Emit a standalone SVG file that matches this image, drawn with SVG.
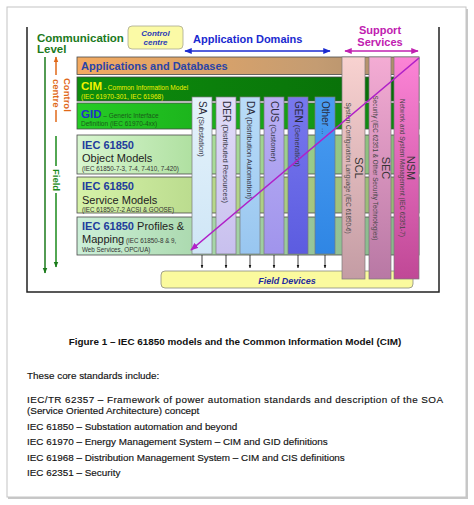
<svg xmlns="http://www.w3.org/2000/svg" width="474" height="505" viewBox="0 0 474 505">
<defs>
<style>
text{font-family:"Liberation Sans",Arial,sans-serif}
.row{stroke:#4a4a4a;stroke-width:0.8}
.col{stroke:#7a7a7a;stroke-width:0.7}
.cm{font-size:10px;fill:#2a2a3a}
.cs{font-size:7.5px;fill:#3a3a4a}
.big{font-size:11px;font-weight:bold;fill:#1f3c9c}
.big2{font-size:11px;fill:#222}
.sm{font-size:6.3px;fill:#333}
.body{font-size:9.9px;fill:#111;stroke:#111;stroke-width:0.15}
.ax{fill:none;stroke-width:1.5}
</style>
<linearGradient id="gApp" x1="0" x2="1"><stop offset="0" stop-color="#f3aa60"/><stop offset="0.7" stop-color="#c49c72"/><stop offset="1" stop-color="#a88a68"/></linearGradient>
<linearGradient id="gCim" x1="0" x2="1"><stop offset="0" stop-color="#0d8e0d"/><stop offset="1" stop-color="#086a08"/></linearGradient>
<linearGradient id="gGid" x1="0" x2="1"><stop offset="0" stop-color="#26cc26"/><stop offset="0.35" stop-color="#1cb41c"/><stop offset="1" stop-color="#0e7e0e"/></linearGradient>
<linearGradient id="gObj" x1="0" x2="1"><stop offset="0" stop-color="#d8f6d0"/><stop offset="0.4" stop-color="#a8dc98"/><stop offset="1" stop-color="#86b878"/></linearGradient>
<linearGradient id="gSvc" x1="0" x2="1"><stop offset="0" stop-color="#d6f2a8"/><stop offset="0.4" stop-color="#b6d88a"/><stop offset="1" stop-color="#94b474"/></linearGradient>
<linearGradient id="gPro" x1="0" x2="1"><stop offset="0" stop-color="#ccefd8"/><stop offset="0.4" stop-color="#a6d6a8"/><stop offset="1" stop-color="#86b488"/></linearGradient>
<linearGradient id="cSA" x1="0" y1="0" x2="0" y2="1"><stop offset="0" stop-color="#e4f2fb"/><stop offset="1" stop-color="#cfe6f6"/></linearGradient>
<linearGradient id="cDER" x1="0" y1="0" x2="0" y2="1"><stop offset="0" stop-color="#e2ddf8"/><stop offset="1" stop-color="#c8c0ee"/></linearGradient>
<linearGradient id="cDA" x1="0" y1="0" x2="0" y2="1"><stop offset="0" stop-color="#badcf8"/><stop offset="1" stop-color="#98c6f0"/></linearGradient>
<linearGradient id="cCUS" x1="0" y1="0" x2="0" y2="1"><stop offset="0" stop-color="#bab0f4"/><stop offset="1" stop-color="#a094ec"/></linearGradient>
<linearGradient id="cGEN" x1="0" y1="0" x2="0" y2="1"><stop offset="0" stop-color="#7878ee"/><stop offset="1" stop-color="#5c5ce0"/></linearGradient>
<linearGradient id="cOTH" x1="0" y1="0" x2="0" y2="1"><stop offset="0" stop-color="#4a9cf2"/><stop offset="1" stop-color="#2f86e4"/></linearGradient>
<linearGradient id="cSCL" x1="0" y1="0" x2="0" y2="1"><stop offset="0" stop-color="#f8d2d0"/><stop offset="1" stop-color="#c49ca4"/></linearGradient>
<linearGradient id="cSEC" x1="0" y1="0" x2="0" y2="1"><stop offset="0" stop-color="#f4acd4"/><stop offset="1" stop-color="#b878a4"/></linearGradient>
<linearGradient id="cNSM" x1="0" y1="0" x2="0" y2="1"><stop offset="0" stop-color="#fc84d6"/><stop offset="1" stop-color="#c04896"/></linearGradient>
<marker id="mBlue" viewBox="0 0 10 10" refX="9" refY="5" markerWidth="5" markerHeight="5" orient="auto-start-reverse"><path d="M0,1 L10,5 L0,9 z" fill="#1a2ad0"/></marker>
<marker id="mMag" viewBox="0 0 10 10" refX="9" refY="5" markerWidth="5" markerHeight="5" orient="auto-start-reverse"><path d="M0,1 L10,5 L0,9 z" fill="#c020b0"/></marker>
<marker id="mPur" viewBox="0 0 10 10" refX="9" refY="5" markerWidth="5" markerHeight="5" orient="auto"><path d="M0,1 L10,5 L0,9 z" fill="#b020c8"/></marker>
<marker id="mGreen" viewBox="0 0 10 10" refX="9" refY="5" markerWidth="4" markerHeight="4" orient="auto"><path d="M0,1 L10,5 L0,9 z" fill="#1a7a1a"/></marker>
<marker id="mOr" viewBox="0 0 10 10" refX="9" refY="5" markerWidth="4" markerHeight="4" orient="auto"><path d="M0,1 L10,5 L0,9 z" fill="#e06818"/></marker>
<marker id="mBlk" viewBox="0 0 10 10" refX="9" refY="5" markerWidth="4" markerHeight="4" orient="auto"><path d="M0,1 L10,5 L0,9 z" fill="#111"/></marker>
</defs>

<rect width="474" height="505" fill="#ffffff"/>
<!-- card -->
<g id="card">
<rect x="8" y="9" width="460" height="490" fill="#9a9a9a" opacity="0.55"/>
<rect x="7" y="7" width="459" height="490" fill="#ffffff" stroke="#c4c4c4" stroke-width="1"/>
<path d="M27,27 V292 H439 V27" fill="none" stroke="#222" stroke-width="1.5"/>
</g>

<!-- headers -->
<g id="communication-level">
<text x="37" y="42" font-size="11.5" font-weight="bold" fill="#1c7a1c">Communication</text>
<text x="37" y="53" font-size="11.5" font-weight="bold" fill="#1c7a1c">Level</text>
</g>
<g id="control-centre">
<rect x="128" y="26" width="55" height="23" rx="4" fill="#fbfaa6" stroke="#a8a890" stroke-width="0.8"/>
<text x="155.5" y="35.5" font-size="8" font-weight="bold" font-style="italic" fill="#2a3ab8" text-anchor="middle">Control</text>
<text x="155.5" y="45" font-size="8" font-weight="bold" font-style="italic" fill="#2a3ab8" text-anchor="middle">centre</text>
</g>
<g id="application-domains">
<text x="193" y="43" font-size="11" font-weight="bold" fill="#1a2ad0">Application Domains</text>
</g>
<g id="support-services">
<text x="380" y="34" font-size="11" font-weight="bold" fill="#c020b0" text-anchor="middle">Support</text>
<text x="380" y="46" font-size="11" font-weight="bold" fill="#c020b0" text-anchor="middle">Services</text>
</g>

<!-- rows -->
<g id="row-appdb">
<rect class="row" x="77" y="57" width="342" height="17.5" fill="url(#gApp)"/>
<text x="81" y="70" font-size="11" font-weight="bold" fill="#2a44a8">Applications and Databases</text>
</g>
<g id="row-cim">
<rect class="row" x="77" y="77" width="342" height="24" fill="url(#gCim)"/>
<text x="81" y="90" fill="#f2f200"><tspan font-size="11.5" font-weight="bold">CIM</tspan><tspan font-size="6.5"> - Common Information Model</tspan></text>
<text x="81" y="98.5" font-size="6.5" fill="#f2f200">(IEC 61970-301, IEC 61968)</text>
</g>
<g id="row-gid">
<rect class="row" x="77" y="103" width="342" height="26" fill="url(#gGid)"/>
<text x="81" y="118" fill="#1a5a1a"><tspan font-size="11.5" font-weight="bold" fill="#2030c8">GID</tspan><tspan font-size="6.5"> – Generic Interface</tspan></text>
<text x="81" y="126" font-size="6.5" fill="#1a5a1a">Definition (IEC 61970-4xx)</text>
</g>
<g id="row-object-models">
<rect class="row" x="77" y="135" width="342" height="39" fill="url(#gObj)"/>
<text x="82" y="149" class="big">IEC 61850</text>
<text x="82" y="162" class="big2">Object Models</text>
<text x="82" y="171" class="sm">(IEC 61850-7-3, 7-4, 7-410, 7-420)</text>
</g>
<g id="row-service-models">
<rect class="row" x="77" y="177" width="342" height="36" fill="url(#gSvc)"/>
<text x="82" y="190" class="big">IEC 61850</text>
<text x="82" y="203.5" class="big2">Service Models</text>
<text x="82" y="211.5" class="sm">(IEC 61850-7-2 ACSI &amp; GOOSE)</text>
</g>
<g id="row-profiles">
<rect class="row" x="77" y="217" width="342" height="38" fill="url(#gPro)"/>
<text x="82" y="229.5"><tspan class="big">IEC 61850</tspan><tspan class="big2"> Profiles &amp;</tspan></text>
<text x="82" y="242.5"><tspan class="big2">Mapping</tspan><tspan class="sm"> (IEC 61850-8 &amp; 9,</tspan></text>
<text x="82" y="252" class="sm">Web Services, OPC/UA)</text>
</g>

<!-- application domain columns -->
<g id="col-sa">
<rect class="col" x="192" y="97" width="20" height="157" fill="url(#cSA)"/>
<text transform="translate(198.5,101) rotate(90)"><tspan class="cm">SA</tspan><tspan class="cs"> (Substation)</tspan></text>
</g>
<g id="col-der">
<rect class="col" x="216" y="97" width="20" height="157" fill="url(#cDER)"/>
<text transform="translate(222.5,101) rotate(90)"><tspan class="cm">DER</tspan><tspan class="cs"> (Distributed Resources)</tspan></text>
</g>
<g id="col-da">
<rect class="col" x="240" y="97" width="20" height="157" fill="url(#cDA)"/>
<text transform="translate(246.5,101) rotate(90)"><tspan class="cm">DA</tspan><tspan class="cs"> (Distribution Automation)</tspan></text>
</g>
<g id="col-cus">
<rect class="col" x="264" y="97" width="20" height="157" fill="url(#cCUS)"/>
<text transform="translate(270.5,101) rotate(90)"><tspan class="cm">CUS</tspan><tspan class="cs"> (Customer)</tspan></text>
</g>
<g id="col-gen">
<rect class="col" x="288" y="97" width="20" height="157" fill="url(#cGEN)"/>
<text transform="translate(294.5,101) rotate(90)"><tspan class="cm">GEN</tspan><tspan class="cs"> (Generation)</tspan></text>
</g>
<g id="col-other">
<rect class="col" x="315" y="97" width="20" height="157" fill="url(#cOTH)"/>
<text transform="translate(321.5,101) rotate(90)"><tspan class="cm" fill="#1a2a6a">Other</tspan><tspan class="cs" fill="#1a2a6a"> ...</tspan></text>
</g>

<!-- field devices -->
<g id="field-devices">
<rect x="161" y="271" width="252" height="17" rx="4" fill="#fbfa9e" stroke="#8a8a80" stroke-width="0.8"/>
<text x="287" y="283.5" font-size="9" font-weight="bold" font-style="italic" fill="#1e2aa0" text-anchor="middle">Field Devices</text>
</g>

<!-- support service columns -->
<g id="col-scl">
<rect class="col" x="342" y="57" width="23" height="222" fill="url(#cSCL)"/>
<text transform="translate(354.5,168) rotate(90)" font-size="11" fill="#333" text-anchor="middle">SCL</text>
<text transform="translate(346,168) rotate(90)" font-size="6.3" fill="#444" text-anchor="middle">System Configuration Language (IEC 61850-6)</text>
</g>
<g id="col-sec">
<rect class="col" x="369" y="57" width="22" height="222" fill="url(#cSEC)"/>
<text transform="translate(381.5,168) rotate(90)" font-size="11" fill="#333" text-anchor="middle">SEC</text>
<text transform="translate(373,168) rotate(90)" font-size="6.3" fill="#444" text-anchor="middle">Security (IEC 62351 &amp; Other Security Technologies)</text>
</g>
<g id="col-nsm">
<rect class="col" x="394" y="57" width="25" height="222" fill="url(#cNSM)"/>
<text transform="translate(406.5,168) rotate(90)" font-size="11" fill="#333" text-anchor="middle">NSM</text>
<text transform="translate(399.5,168) rotate(90)" font-size="6.3" fill="#444" text-anchor="middle">Network and System Management (IEC 62351-7)</text>
</g>

<!-- axis labels -->
<g id="axis-control-centre">
<text transform="translate(64,78) rotate(90)" font-size="9.5" font-weight="bold" fill="#e06818">Control</text>
<text transform="translate(52.5,79) rotate(90)" font-size="9.5" font-weight="bold" fill="#e06818">centre</text>
</g>
<g id="axis-field">
<text transform="translate(52.5,169) rotate(90)" font-size="9.5" font-weight="bold" fill="#1a8a1a">Field</text>
</g>

<!-- connectors -->
<g id="connectors">
<line x1="185" y1="51" x2="330" y2="51" stroke="#1a2ad0" stroke-width="1.5" marker-start="url(#mBlue)" marker-end="url(#mBlue)"/>
<line x1="345" y1="51" x2="418" y2="51" stroke="#c020b0" stroke-width="1.5" marker-start="url(#mMag)" marker-end="url(#mMag)"/>
<line x1="45" y1="57" x2="45" y2="273" class="ax" stroke="#1a7a1a" marker-end="url(#mGreen)"/>
<line x1="56" y1="75" x2="56" y2="57" class="ax" stroke="#e06818" marker-end="url(#mOr)"/>
<line x1="56" y1="110" x2="56" y2="122" class="ax" stroke="#e06818"/>
<line x1="56" y1="136" x2="56" y2="166" class="ax" stroke="#1a8a1a"/>
<line x1="56" y1="193" x2="56" y2="267" class="ax" stroke="#1a8a1a" marker-end="url(#mGreen)"/>
<g stroke="#111" stroke-width="0.8">
<line x1="202" y1="255" x2="202" y2="268" marker-end="url(#mBlk)"/>
<line x1="226" y1="255" x2="226" y2="268" marker-end="url(#mBlk)"/>
<line x1="250" y1="255" x2="250" y2="268" marker-end="url(#mBlk)"/>
<line x1="274" y1="255" x2="274" y2="268" marker-end="url(#mBlk)"/>
<line x1="298" y1="255" x2="298" y2="268" marker-end="url(#mBlk)"/>
<line x1="325" y1="255" x2="325" y2="268" marker-end="url(#mBlk)"/>
</g>
<line x1="419" y1="58" x2="191" y2="250" stroke="#b020c8" stroke-width="1.6" marker-end="url(#mPur)"/>
</g>

<!-- caption and body text -->
<g id="caption">
<text x="235" y="345" font-size="9.9" font-weight="bold" fill="#111" text-anchor="middle">Figure 1 – IEC 61850 models and the Common Information Model (CIM)</text>
</g>
<g id="body-text">
<text x="27" y="379" class="body">These core standards include:</text>
<text x="27" y="403" class="body" textLength="416" lengthAdjust="spacing">IEC/TR 62357 – Framework of power automation standards and description of the SOA</text>
<text x="27" y="413.5" class="body">(Service Oriented Architecture) concept</text>
<text x="27" y="429.5" class="body">IEC 61850 – Substation automation and beyond</text>
<text x="27" y="445" class="body">IEC 61970 – Energy Management System – CIM and GID definitions</text>
<text x="27" y="460.5" class="body">IEC 61968 – Distribution Management System – CIM and CIS definitions</text>
<text x="27" y="476" class="body">IEC 62351 – Security</text>
</g>
</svg>
